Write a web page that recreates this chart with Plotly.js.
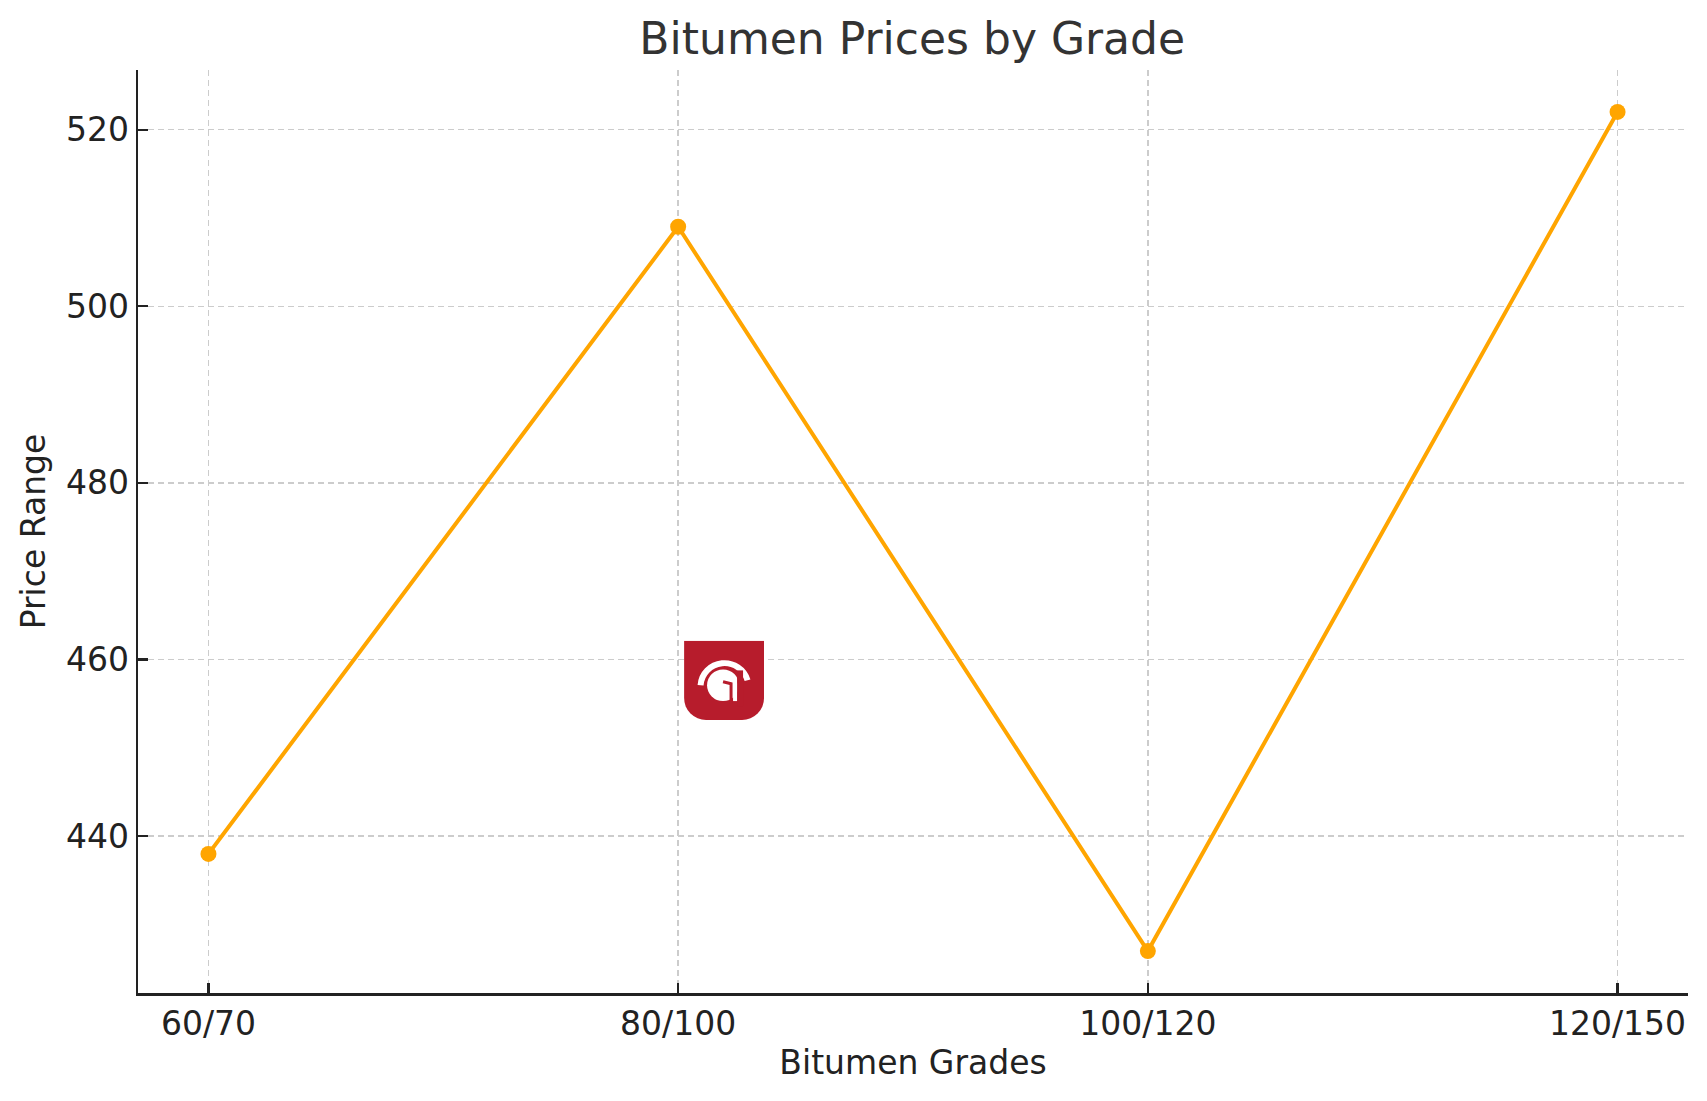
<!DOCTYPE html>
<html>
<head>
<meta charset="utf-8">
<script src="https://cdn.plot.ly/plotly-3.0.1.min.js"></script>
<style>html,body{margin:0;padding:0;background:#fff;}#chart{width:1707px;height:1101px;}</style>
</head>
<body>
<div id="chart"></div>
<script>
const grades = ["60/70", "80/100", "100/120", "120/150"];
const prices = [438, 509, 427, 522];
const yTicks = [440, 460, 480, 500, 520];

const logoSvg = '<svg xmlns="http://www.w3.org/2000/svg" width="80" height="80" viewBox="0 0 80 80" preserveAspectRatio="none">' +
  '<path d="M0 0 H80 V58 A22 22 0 0 1 58 80 H22 A22 22 0 0 1 0 58 Z" fill="#b71c2c"/>' +
  '<path d="M16.5 45 A24 24 0 0 1 63.5 40" fill="none" stroke="#ffffff" stroke-width="6"/>' +
  '<circle cx="39" cy="45" r="16" fill="#ffffff"/>' +
  '<rect x="53" y="30" width="6" height="36" fill="#b71c2c"/>' +
  '<rect x="49" y="43" width="4" height="18" fill="#ffffff"/>' +
  '<path d="M39 41.5 L47 43.5 L47 64" fill="none" stroke="#b71c2c" stroke-width="3"/>' +
  '</svg>';
const logoSrc = 'data:image/svg+xml;charset=utf-8,' + encodeURIComponent(logoSvg);

const trace = {
  x: grades,
  y: prices,
  type: 'scatter',
  mode: 'lines+markers',
  line: {color: '#FFA500', width: 4},
  marker: {color: '#FFA500', size: 16},
  hoverinfo: 'skip'
};

const layout = {
  width: 1707,
  height: 1101,
  margin: {l: 138, r: 19, t: 70, b: 108},
  paper_bgcolor: '#ffffff',
  plot_bgcolor: '#ffffff',
  showlegend: false,
  font: {family: 'DejaVu Sans, sans-serif', size: 33, color: '#222222'},
  title: {
    text: 'Bitumen Prices by Grade',
    font: {family: 'DejaVu Sans, sans-serif', size: 44, color: '#333333'},
    x: 0.5344, xanchor: 'center',
    y: 0.965, yanchor: 'middle'
  },
  xaxis: {
    type: 'category',
    categoryorder: 'array',
    categoryarray: grades,
    range: [-0.15, 3.15],
    showline: true, linecolor: '#222222', linewidth: 2.5, mirror: false,
    ticks: 'inside', ticklen: 10, tickwidth: 2.2, tickcolor: '#222222',
    tickfont: {family: 'DejaVu Sans, sans-serif', size: 33, color: '#222222'},
    showgrid: true, gridcolor: '#cccccc', gridwidth: 1.5, griddash: '6px,4px',
    zeroline: false,
    title: {text: 'Bitumen Grades', font: {family: 'DejaVu Sans, sans-serif', size: 33, color: '#222222'}, standoff: 9}
  },
  yaxis: {
    range: [422.25, 526.75],
    tickvals: yTicks,
    ticktext: yTicks.map(String),
    showline: true, linecolor: '#222222', linewidth: 2.5, mirror: false,
    ticks: 'inside', ticklen: 10, tickwidth: 2.2, tickcolor: '#222222',
    tickfont: {family: 'DejaVu Sans, sans-serif', size: 33, color: '#222222'},
    showgrid: true, gridcolor: '#cccccc', gridwidth: 1.5, griddash: '6px,4px',
    zeroline: false,
    title: {text: 'Price Range', font: {family: 'DejaVu Sans, sans-serif', size: 33, color: '#222222'}, standoff: 11}
  },
  images: [{
    source: logoSrc,
    xref: 'paper', yref: 'paper',
    x: 0.3523, y: 0.3817,
    sizex: 0.0516, sizey: 0.0858,
    xanchor: 'left', yanchor: 'top',
    sizing: 'stretch',
    layer: 'above'
  }]
};

Plotly.newPlot('chart', [trace], layout, {staticPlot: true, displayModeBar: false});
</script>
</body>
</html>
